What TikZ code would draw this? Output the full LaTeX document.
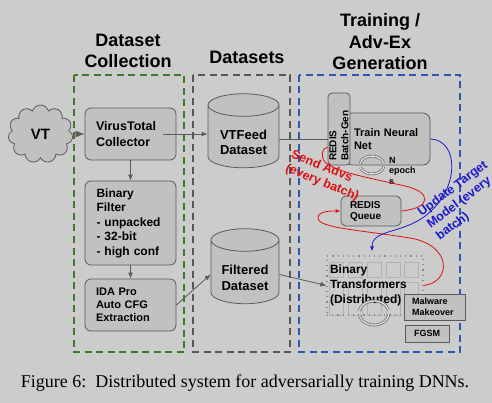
\documentclass[tikz,border=0pt]{standalone}
\usepackage{fontspec}
\setmainfont{Liberation Sans}
\newfontfamily\capfont{Liberation Serif}
\usetikzlibrary{shapes.geometric,shapes.symbols,arrows.meta,calc}

\definecolor{bgc}{HTML}{CCCCCC}
\definecolor{boxc}{HTML}{C1C1C1}
\definecolor{edgec}{HTML}{5A5A5A}
\definecolor{dgreen}{HTML}{3A7A28}
\definecolor{dgray}{HTML}{575757}
\definecolor{dblue}{HTML}{2A58B0}
\definecolor{advred}{HTML}{DD1010}
\definecolor{tgtblue}{HTML}{1A1ACC}

\newcommand{\fs}[2]{\fontsize{#1}{#2}\selectfont}
% ring of two arcs: centre, x radius, y radius
\newcommand{\loopicon}[3]{%
  \foreach \a in {15,195}{
    \draw[black!60, line width=0.7pt, double=black!12, double distance=1.3pt]
      #1 ++(\a:#2pt and #3pt) arc[start angle=\a, delta angle=155, x radius=#2pt, y radius=#3pt];
  }}
% cylinder text, set a little below the centre
\newcommand{\lowtext}[1]{\raisebox{-5pt}[\height][\depth]{\begin{tabular}{@{}c@{}}#1\end{tabular}}}

\tikzset{
  stage/.style={line width=1.8pt, dash pattern=on 7pt off 4.5pt},
  title/.style={font=\fs{18}{21.5}\bfseries, align=center},
  proc/.style={draw=edgec, fill=boxc, line width=0.8pt, rounded corners=6pt, align=left},
  store/.style={cylinder, shape border rotate=90, aspect=0.42, draw=edgec, fill=boxc,
    line width=0.8pt, align=center, font=\fs{13}{15.5}\bfseries},
  flow/.style={draw=edgec, line width=0.8pt, -{Latex[length=6pt,width=5pt]}},
  curve/.style={line width=0.8pt},
}

\begin{document}
\begin{tikzpicture}[x=1pt,y=-1pt]
\fill[bgc] (0,0) rectangle (492,403);
\useasboundingbox (0,0) rectangle (492,403);

% stages
\draw[stage, dgreen] (74,75) rectangle (184,352);
\draw[stage, dgray] (193,75) rectangle (290,352);
\draw[stage, dblue] (299,75) rectangle (460,352);
\node[title] (ttlcol) at (128,51) {Dataset\\Collection};
\node[title] (ttlset) at (247,57) {Datasets};
\node[title] (ttltrn) at (380,42) {Training /\\Adv-Ex\\Generation};

% collection
\node[cloud, cloud puffs=11, aspect=1.1, draw=edgec, fill=boxc, line width=0.8pt,
  minimum width=65pt, minimum height=58pt, inner sep=0pt, font=\fs{15}{18}\bfseries] (vt) at (40.5,134) {VT};
\node[proc, minimum height=52pt, text width=69pt, inner xsep=11pt, font=\fs{12.5}{15.5}\bfseries] (col) at (130.5,134) {VirusTotal\\Collector};
\node[proc, minimum height=84pt, text width=68pt, inner xsep=11.5pt, font=\fs{12}{14.5}\bfseries] (binf) at (130.5,223) {Binary\\Filter\\- unpacked\\- 32-bit\\- high conf};
\node[proc, minimum height=52pt, text width=69pt, inner xsep=11pt, font=\fs{11}{13}\bfseries] (ida) at (130.5,305) {IDA Pro\\Auto CFG\\Extraction};

% datasets
\node[store, minimum width=71pt, minimum height=74pt] (vtf) at (243.5,139) {\lowtext{VTFeed\\Dataset}};
\node[store, minimum width=68pt, minimum height=75pt] (fds) at (245,274.5) {\lowtext{Filtered\\Dataset}};

% training
\node[proc, rounded corners=7pt, minimum height=52pt, text width=67pt, inner xsep=9pt, font=\fs{11}{13}\bfseries] (tn) at (387.5,139) {Train Neural\\Net};
\node[proc, rotate=90, rounded corners=4pt, minimum height=22pt, text width=64pt, inner xsep=4pt, inner ysep=0pt, font=\fs{10}{12}\bfseries] (bg) at (339,129) {REDIS\\Batch-Gen};
\node[font=\fs{9}{10.5}\bfseries, align=left, anchor=north west, inner sep=0pt] (ep) at (389,157) {N\\epoch\\s};
\loopicon{(372,165)}{12}{9}
\node[proc, rounded corners=5pt, minimum height=30pt, text width=42pt, inner xsep=9pt, font=\fs{10}{11}\bfseries] (rq) at (371,211) {REDIS\\Queue};

\foreach \cx in {329,348,367,386,404}
  \foreach \cy in {262,282,300}
    \draw[black!30, line width=0.8pt] (\cx,\cy) rectangle +(14,15);
\node[draw=black!45, line width=1.2pt, dash pattern=on 1.2pt off 4pt, minimum height=59pt, text width=90pt, inner xsep=3pt,
  align=left, font=\fs{12}{15}\bfseries] (bt) at (375,285.5) {Binary\\Transformers\\(Distributed)};
\loopicon{(374,313)}{15}{12}
\node[draw=edgec, fill=boxc, line width=0.8pt, minimum height=26pt, text width=45pt, inner xsep=8pt,
  align=left, font=\fs{9}{11}\bfseries] (mm) at (434.5,307) {Malware\\Makeover};
\node[draw=edgec, fill=boxc, line width=0.8pt, minimum width=44pt, minimum height=17pt, font=\fs{9}{11}\bfseries] (fgsm) at (427,333.5) {FGSM};

% connectors
\draw[flow, -{Latex[length=9pt,width=7pt]}] (vt) -- (col);
\draw[flow] (col) -- (binf);
\draw[flow] (binf) -- (ida);
\draw[flow] ([xshift=-13pt]col.east) -- (col.east -| vtf.west);
\draw[edgec, line width=0.8pt] (vtf.east) -- (vtf.east -| bg.north);
\draw[flow] (ida.east) -- (fds.west);
\draw[flow] (fds.east) -- (bt.west);

\draw[curve, advred, -{Latex[length=5pt,width=4pt]}] (bt.east) .. controls (452,282) and (452,245) .. (410,238)
  .. controls (360,230) and (318,228) .. (318,218) .. controls (318,211) and (330,211) .. (rq.west);
\draw[curve, advred] (rq.east) .. controls (432,208) and (432,192) .. (405,186)
  .. controls (370,178) and (335,172) .. (325,162) .. controls (320,156) and (322,148) .. ($(bg.north)!0.5!(bg.north west)$);
\draw[curve, tgtblue, -{Latex[length=5pt,width=4pt]}] (tn.east) .. controls (458,140) and (460,185) .. (430,212)
  .. controls (405,235) and (372,228) .. ([xshift=-3pt,yshift=4pt]bt.north);
\node[advred, font=\fs{12.5}{15}\bfseries, align=left, rotate=-22] (lbsend) at (325,176) {Send Advs\\(every batch)};
\node[tgtblue, font=\fs{12.5}{15}\bfseries, align=left, rotate=37] (lbupd) at (462,201) {Update Target\\Model (every\\batch)};

\node[font=\capfont\fs{18}{21}] (cap) at (245,383) {Figure 6:\ \ Distributed system for adversarially training DNNs.};
\end{tikzpicture}
\end{document}
